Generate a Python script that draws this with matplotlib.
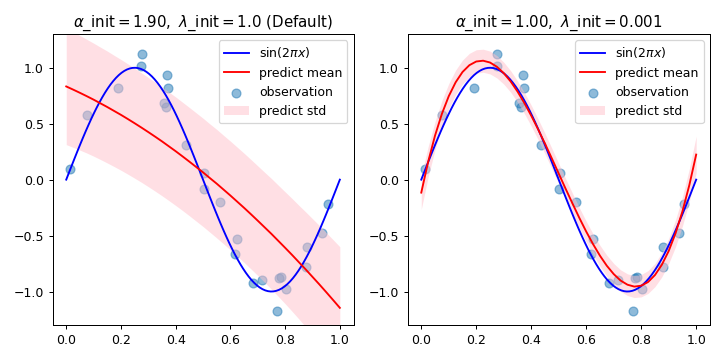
import numpy as np
import matplotlib
matplotlib.use("Agg")
import matplotlib.pyplot as plt

obs_x = [0.012, 0.077, 0.191, 0.274, 0.277, 0.370, 0.372, 0.357, 0.363, 0.436,
         0.504, 0.502, 0.563, 0.623, 0.616, 0.682, 0.714, 0.778, 0.784, 0.772,
         0.803, 0.880, 0.878, 0.936, 0.956]
obs_y = [0.093, 0.579, 0.821, 1.015, 1.122, 0.934, 0.820, 0.684, 0.648, 0.313,
         0.063, -0.081, -0.203, -0.528, -0.666, -0.925, -0.893, -0.878, -0.866, -1.176,
         -0.976, -0.606, -0.779, -0.478, -0.215]

# prediction grid
grid_x = [0.000, 0.025, 0.050, 0.075, 0.100, 0.125, 0.150, 0.175, 0.200, 0.225,
          0.250, 0.275, 0.300, 0.325, 0.350, 0.375, 0.400, 0.425, 0.450, 0.475,
          0.500, 0.525, 0.550, 0.575, 0.600, 0.625, 0.650, 0.675, 0.700, 0.725,
          0.750, 0.775, 0.800, 0.825, 0.850, 0.875, 0.900, 0.925, 0.950, 0.975, 1.000]

# panel 1 (default init)
mean_default = [0.833, 0.805, 0.776, 0.746, 0.715, 0.682, 0.649, 0.614, 0.579, 0.542,
                0.504, 0.465, 0.425, 0.384, 0.342, 0.298, 0.254, 0.208, 0.161, 0.113,
                0.065, 0.014, -0.036, -0.089, -0.142, -0.197, -0.252, -0.309, -0.367, -0.426,
                -0.485, -0.547, -0.609, -0.672, -0.737, -0.802, -0.869, -0.936, -1.005, -1.075, -1.146]
std_default = [0.520, 0.516, 0.512, 0.508, 0.505, 0.502, 0.500, 0.497, 0.495, 0.493,
               0.491, 0.489, 0.488, 0.487, 0.486, 0.485, 0.485, 0.484, 0.484, 0.484,
               0.484, 0.484, 0.485, 0.485, 0.486, 0.487, 0.488, 0.489, 0.490, 0.492,
               0.495, 0.497, 0.500, 0.504, 0.508, 0.514, 0.520, 0.526, 0.532, 0.539, 0.546]

# panel 2 (alpha_init=1, lambda_init=1e-3)
mean_custom = [-0.116, 0.159, 0.393, 0.588, 0.746, 0.870, 0.962, 1.023, 1.056, 1.063,
               1.047, 1.009, 0.952, 0.878, 0.788, 0.685, 0.572, 0.450, 0.322, 0.189,
               0.054, -0.081, -0.213, -0.342, -0.464, -0.577, -0.680, -0.770, -0.844, -0.902,
               -0.939, -0.956, -0.948, -0.915, -0.853, -0.761, -0.638, -0.479, -0.284, -0.050, 0.224]
std_custom = [0.150, 0.136, 0.125, 0.118, 0.112, 0.109, 0.107, 0.106, 0.105, 0.103,
              0.102, 0.100, 0.098, 0.096, 0.095, 0.094, 0.093, 0.092, 0.092, 0.091,
              0.091, 0.091, 0.091, 0.091, 0.092, 0.092, 0.093, 0.094, 0.095, 0.096,
              0.097, 0.098, 0.100, 0.102, 0.104, 0.108, 0.112, 0.120, 0.130, 0.146, 0.165]

titles = [r"$\alpha$_init$=1.90,\ \lambda$_init$=1.0$ (Default)",
          r"$\alpha$_init$=1.00,\ \lambda$_init$=0.001$"]

fig = plt.figure(figsize=(8, 4), dpi=90)
ax1 = fig.add_axes([0.073, 0.097, 0.418, 0.808])
ax2 = fig.add_axes([0.566, 0.097, 0.420, 0.808])

x_test = np.linspace(0.0, 1.0, 100)
gx = np.array(grid_x)
for ax, mean, std, title in [(ax1, mean_default, std_default, titles[0]),
                             (ax2, mean_custom, std_custom, titles[1])]:
    mean = np.array(mean)
    std = np.array(std)
    h_sin, = ax.plot(x_test, np.sin(2 * np.pi * x_test), color="blue", label=r"sin($2\pi x$)")
    h_obs = ax.scatter(obs_x, obs_y, s=50, alpha=0.5, label="observation")
    h_mean, = ax.plot(gx, mean, color="red", label="predict mean")
    h_std = ax.fill_between(gx, mean - std, mean + std, color="pink", alpha=0.5,
                            label="predict std", linewidth=0)
    ax.set_ylim(-1.3, 1.3)
    ax.legend(handles=[h_sin, h_mean, h_obs, h_std], loc="upper right")
    ax.set_title(title, fontsize=12)

fig.savefig("out.png", dpi=90)
